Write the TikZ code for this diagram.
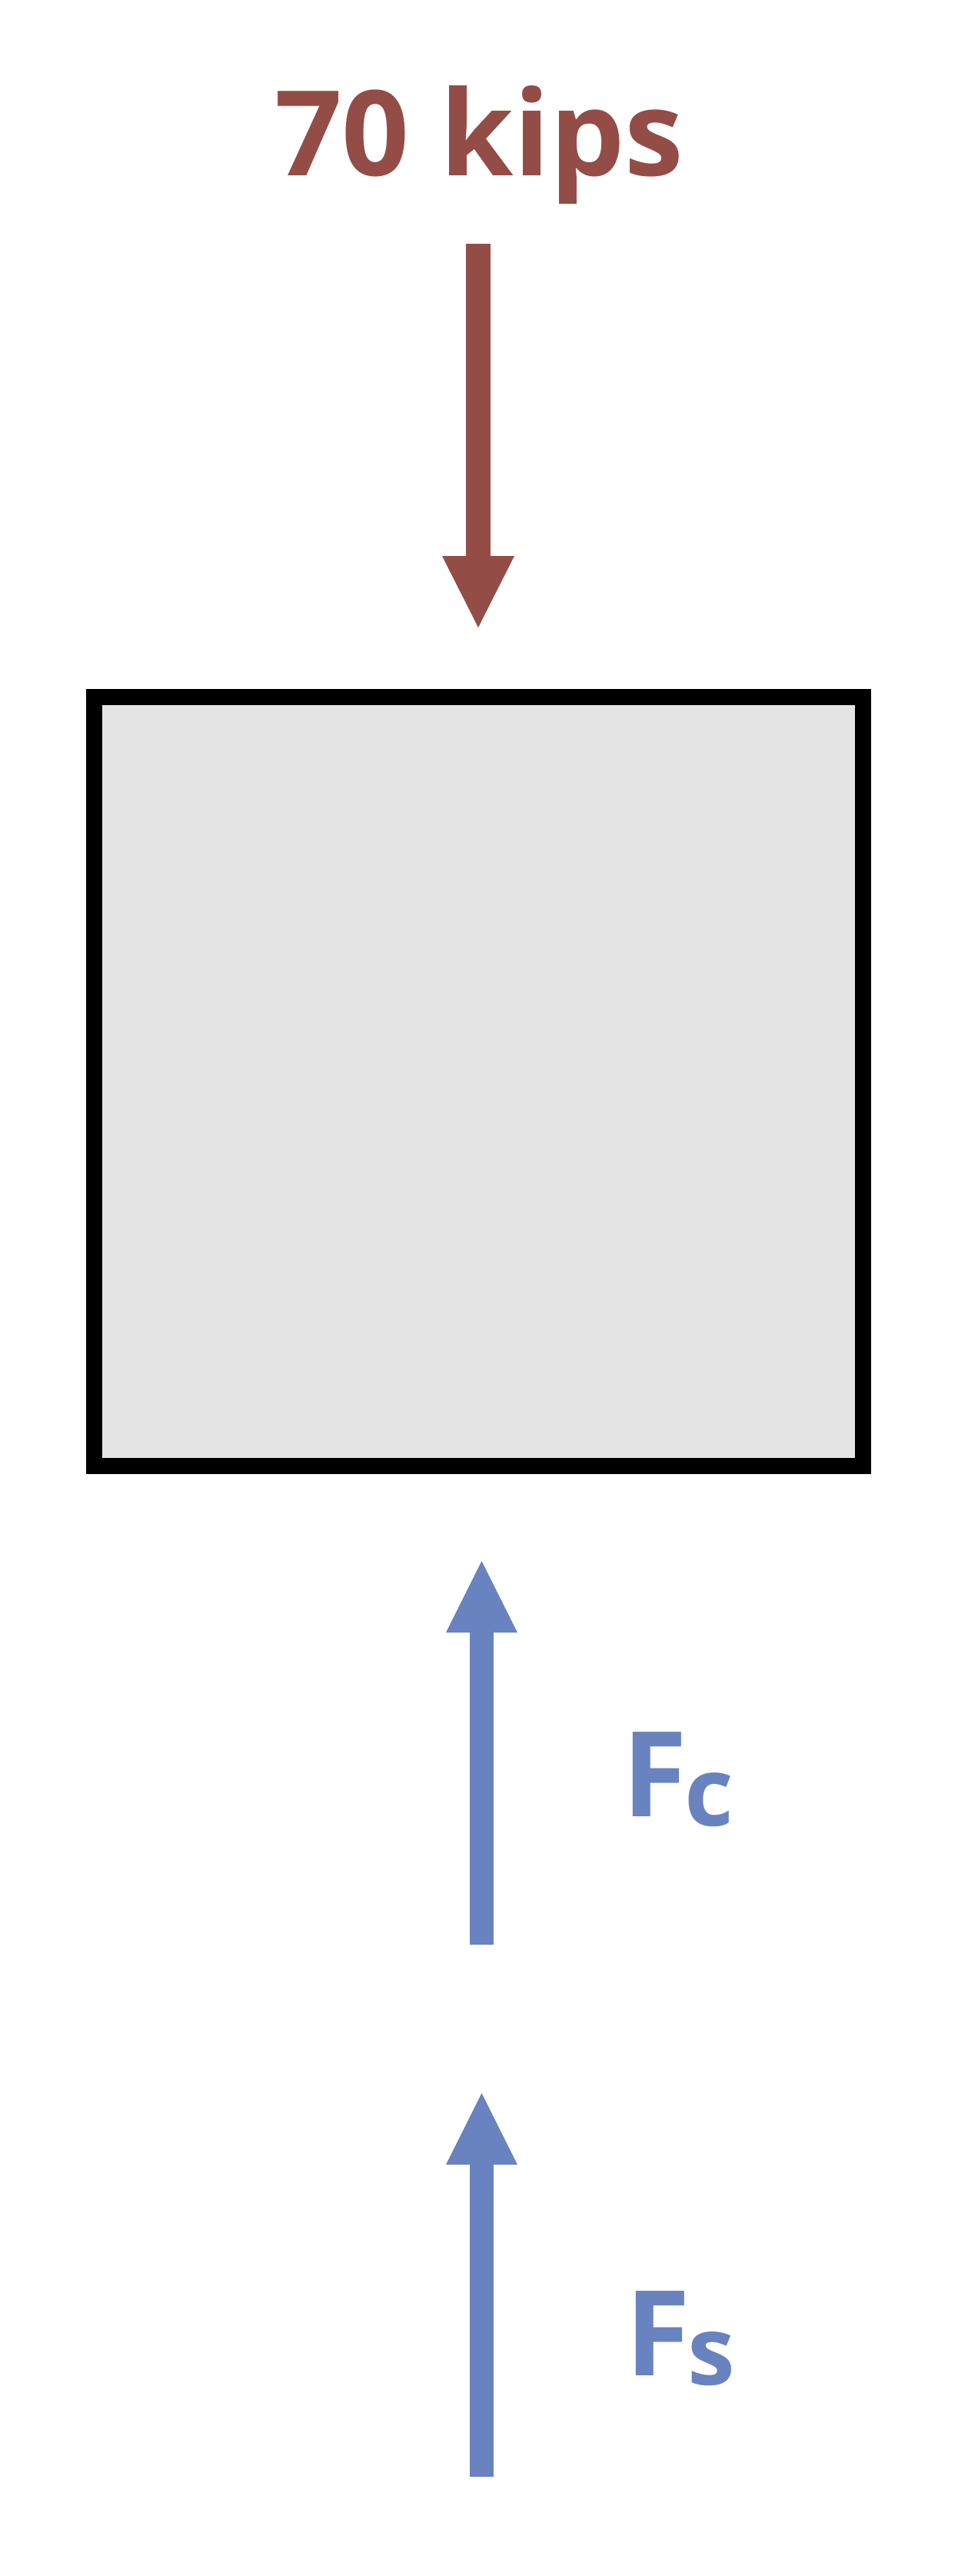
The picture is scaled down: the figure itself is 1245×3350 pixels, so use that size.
\documentclass[tikz,border=0pt]{standalone}
\usepackage{fontspec}
\setmainfont{Open Sans}
\usetikzlibrary{arrows.meta}
\definecolor{loadbrown}{HTML}{944C46}
\definecolor{forceblue}{HTML}{6883BF}
\definecolor{boxgray}{HTML}{E5E5E5}
\tikzset{
  loadarrow/.style={draw=loadbrown, line width=32pt, line cap=butt,
    -{Triangle[length=93pt,width=94pt,line width=0pt]}},
  forcearrow/.style={draw=forceblue, line width=31pt, line cap=butt,
    -{Triangle[length=93pt,width=93pt,line width=0pt]}},
  blockbox/.style={draw=black, fill=boxgray, line width=21pt, minimum width=1000pt,
    minimum height=1000pt, inner sep=0pt, outer sep=0pt, line join=miter},
  loadlabel/.style={text=loadbrown, font=\bfseries, inner sep=0pt, outer sep=0pt, anchor=base west},
  forcelabel/.style={text=forceblue, font=\bfseries, inner sep=0pt, outer sep=0pt, anchor=base west}
}
\begin{document}
\begin{tikzpicture}[x=1pt,y=-1pt]
\useasboundingbox[fill=white] (0,0) rectangle (1245,3350);
% load label
\node[loadlabel] (load) at (357,229) {\fontsize{154}{154}\selectfont 70 kips};
% applied load arrow
\coordinate (ltop) at (622,317);
\coordinate (ltip) at (622,816);
\draw[loadarrow] (ltop) -- (ltip);
% block
\node[blockbox] (block) at (622.5,1406.5) {};
% Fc arrow
\coordinate (cbot) at (626.5,2529);
\coordinate (ctip) at (626.5,2030);
\draw[forcearrow] (cbot) -- (ctip);
\node[forcelabel] (fc) at (809,2362) {\fontsize{154}{154}\selectfont F\kern-3pt\raisebox{-12pt}{\fontsize{124}{124}\selectfont c}};
% Fs arrow
\coordinate (sbot) at (626.5,3221);
\coordinate (stip) at (626.5,2722);
\draw[forcearrow] (sbot) -- (stip);
\node[forcelabel] (fs) at (813,3089) {\fontsize{154}{154}\selectfont F\kern-3pt\raisebox{-12pt}{\fontsize{124}{124}\selectfont s}};
\end{tikzpicture}
\end{document}
